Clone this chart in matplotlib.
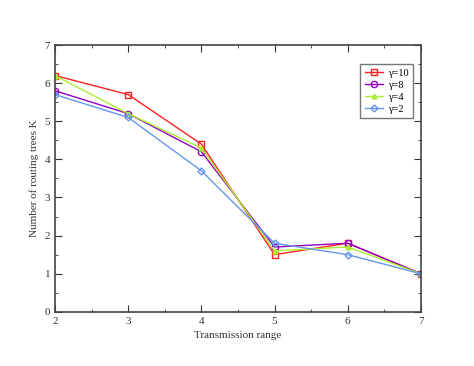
import matplotlib
matplotlib.use("Agg")
import matplotlib.pyplot as plt
from matplotlib.ticker import MultipleLocator

x = [2, 3, 4, 5, 6, 7]
g10 = [6.2, 5.7, 4.4, 1.5, 1.8, 1.0]
g8 = [5.8, 5.2, 4.2, 1.7, 1.8, 1.0]
g4 = [6.2, 5.2, 4.3, 1.6, 1.7, 1.0]
g2 = [5.7, 5.1, 3.7, 1.8, 1.5, 1.0]

plt.rcParams['font.family'] = ['Liberation Serif', 'DejaVu Serif']
fig = plt.figure(figsize=(4.74, 3.66), dpi=100)
ax = fig.add_axes([0.116, 0.148, 0.772, 0.729])

ax.plot(x, g10, color='#ff2020', marker='s', ms=4, mfc='none', mew=1, lw=1, label='γ=10')
ax.plot(x, g8, color='#9400c0', marker='o', ms=4.5, mfc='none', mew=1, lw=1, label='γ=8')
ax.plot(x, g4, color='#a8f030', marker='^', ms=3.5, lw=1, label='γ=4')
ax.plot(x, g2, color='#6495ed', marker='D', ms=3.5, mfc='none', mew=1, lw=1, label='γ=2')

ax.set_xlim(2, 7)
ax.set_ylim(0, 7)
ax.xaxis.set_major_locator(MultipleLocator(1))
ax.xaxis.set_minor_locator(MultipleLocator(0.5))
ax.yaxis.set_major_locator(MultipleLocator(1))
ax.yaxis.set_minor_locator(MultipleLocator(0.5))
ax.tick_params(which='both', direction='in', top=True, right=True, labelsize=8, colors='#333333')
ax.tick_params(which='major', length=5)
ax.tick_params(which='minor', length=2.5)
for s in ax.spines.values():
    s.set_color('#444444')
    s.set_linewidth(1.2)
ax.set_xlabel('Transmission range', fontsize=8, color='#333333')
ax.set_ylabel('Number of routing trees K', fontsize=8, color='#333333')
leg = ax.legend(loc='upper right', bbox_to_anchor=(0.978, 0.929), fontsize=7.5, frameon=True, fancybox=False,
                handlelength=1.8, handletextpad=0.4, borderpad=0.45, labelspacing=0.25,
                borderaxespad=0, edgecolor='#555555')
leg.get_frame().set_linewidth(1)
fig.savefig('out.png', dpi=100)
